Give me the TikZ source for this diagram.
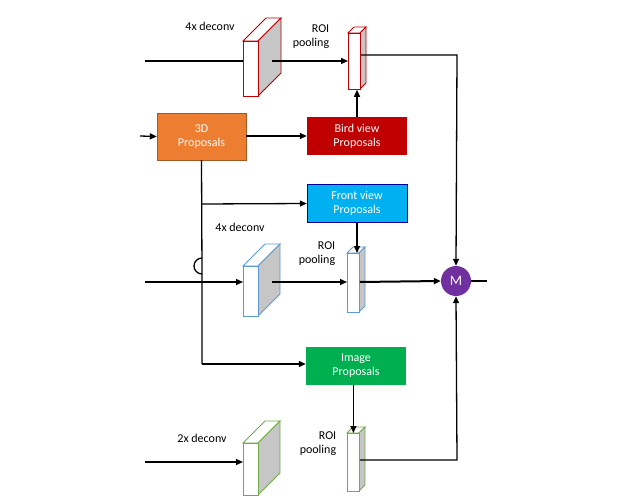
\documentclass[tikz,border=0pt]{standalone}
\usepackage{fontspec}
\setmainfont{Carlito}
\usetikzlibrary{arrows.meta}
\definecolor{bred}{HTML}{C00000}
\definecolor{borange}{HTML}{ED7D31}
\definecolor{bblue}{HTML}{00B0F0}
\definecolor{bgreen}{HTML}{00B050}
\definecolor{mpurple}{HTML}{7030A0}
\definecolor{lred}{HTML}{C00000}
\definecolor{lblue}{HTML}{5B9BD5}
\definecolor{lgreen}{HTML}{70AD47}
\newcommand{\myblk}[8]{% name x y w h dx dy color
  \fill[white,draw=#8,line width=0.8pt] (#2,#3) -- ++(#6,-#7) -- ++(#4,0) -- ++(-#6,#7) -- cycle;
  \fill[gray!45,draw=#8,line width=0.8pt] (#2+#4,#3) -- ++(#6,-#7) -- ++(0,#5) -- ++(-#6,#7) -- cycle;
  \node[draw=#8,fill=white,line width=0.8pt,minimum width=#4pt,minimum height=#5pt,inner sep=0,anchor=north west] (#1) at (#2,#3) {};
}
\begin{document}
\begin{tikzpicture}[x=1pt,y=-1pt,
  box/.style={minimum width=100pt,minimum height=38pt,text=white,align=center,font=\large,inner sep=1pt},
  arr/.style={-{Triangle[length=7pt,width=6pt]},line width=1.3pt},
  ln/.style={line width=1.3pt},
  lbl/.style={font=\large,align=center,inner sep=0}]
\useasboundingbox (0,0) rectangle (642,500);
% blocks
\myblk{d1}{243}{41}{15}{55}{23}{23}{lred}
\myblk{r1}{348}{33}{12}{56}{6}{6}{lred}
\myblk{d2}{243}{266}{15}{50}{22}{22}{lblue}
\myblk{r2}{347}{253}{12}{59}{6}{6}{lblue}
\myblk{d3}{243}{443}{15}{52}{22}{22}{lgreen}
\myblk{r3}{347}{433}{12}{58}{6}{6}{lgreen}
% boxes
\node[box,fill=borange,draw=borange!70!black,minimum width=89pt,minimum height=47pt] (p3d) at (201.5,136.5) {3D\\Proposals};
\node[box,fill=bred] (bird) at (357,136) {Bird view\\Proposals};
\node[box,fill=bblue,draw=blue!60!black] (front) at (357,203.5) {Front view\\Proposals};
\node[box,fill=bgreen] (img) at (356,366) {Image\\Proposals};
\node[circle,fill=mpurple,minimum size=30pt,inner sep=0,text=white,font=\Large] (M) at (456,281) {M};
% coordinates
\coordinate (in1) at (145,61);
\coordinate (in0) at (140,136);
\coordinate (in2) at (145,282);
\coordinate (in3) at (145,462);
\coordinate (out) at (487,281);
% connectors
\draw[ln] (in1) -- (d1.west|-in1);
\draw[arr] (272,61) -- (r1.west|-in1);
\draw[arr] (in0) -- (p3d.west);
\draw[arr] (p3d.east|-bird) -- (bird.west);
\draw[arr] (bird.north) -- (bird.north|-r1.south);
\draw[arr] (r1.east|-0,55) -- (457,55) -- (M.north);
\draw[ln] (p3d.south) -- (202,274) arc[start angle=-90,end angle=90,radius=-8] -- (202,364);
\draw[arr] (202,204) -- (front.west);
\draw[arr] (202,364) -- (img.west|-0,364);
\draw[arr] (front.south) -- (front.south|-r2.north);
\draw[arr] (in2) -- (d2.west|-in2);
\draw[arr] (272,282) -- (r2.west|-in2);
\draw[arr,line width=2pt] (r2.east|-in2) -- (M.west);
\draw[ln] (M.east) -- (out);
\draw[arr] (in3) -- (d3.west|-in3);
\draw[arr] (img.south-|r3.north) -- (r3.north);
\draw[arr] (r3.east|-0,460) -- (457,460) -- (M.south);
% labels
\node[lbl] (t1) at (210,26) {4x deconv};
\node[lbl,align=right] (t2) at (311,37) {ROI\\pooling};
\node[lbl] (t3) at (240,227) {4x deconv};
\node[lbl,align=right] (t4) at (317,254) {ROI\\pooling};
\node[lbl] (t5) at (202,438) {2x deconv};
\node[lbl,align=right] (t6) at (318,444) {ROI\\pooling};
\end{tikzpicture}
\end{document}
